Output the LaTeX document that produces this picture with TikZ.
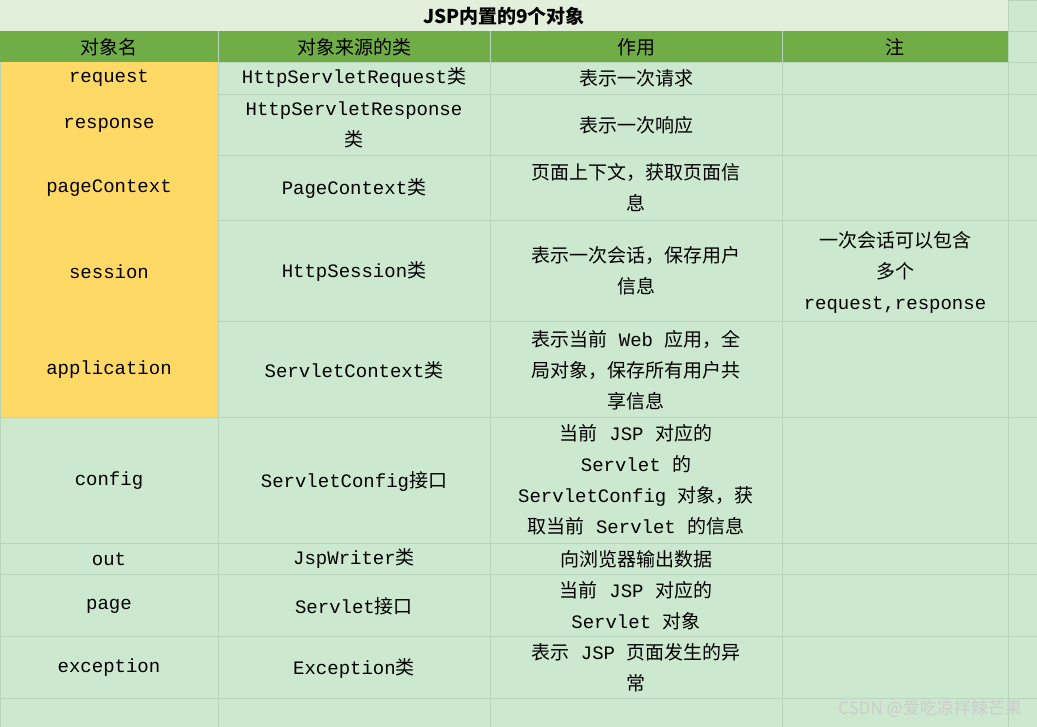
\documentclass[tikz,border=0pt]{standalone}
\usepackage{fontspec}
\setmainfont{Liberation Mono}
\newfontfamily\zhf{Noto Sans CJK SC}
\newcommand{\zh}[1]{{\zhf #1}}
\definecolor{titlebg}{HTML}{E2EFDA}
\definecolor{headbg}{HTML}{70AD47}
\definecolor{bodybg}{HTML}{CCE8CF}
\definecolor{yel}{HTML}{FFD966}
\definecolor{gridc}{HTML}{B8D4BA}
\begin{document}
\begin{tikzpicture}[x=1pt,y=-1pt,
  cell/.style={inner sep=0pt,align=center,font=\fontsize{19}{31}\selectfont,anchor=center},
  grid/.style={draw=gridc,line width=0.8pt}]
\useasboundingbox (0,0) rectangle (1037,727);
\fill[bodybg] (0,0) rectangle (1037,727);
\fill[titlebg] (0,0) rectangle (1008,31);
\fill[headbg] (0,31) rectangle (1008,62);
\fill[yel] (0,62) rectangle (218,417);
% grid
\foreach \y in {62,94,155,220,321,417,543,574,636,698} \draw[grid] (218,\y) -- (1037,\y);
\foreach \y in {417,543,574,636,698} \draw[grid] (0,\y) -- (218,\y);
\draw[grid] (1008,0) -- (1037,0) (1008,31)--(1037,31) (1008,62)--(1037,62);
\foreach \x in {218,490,782} \draw[grid] (\x,31) -- (\x,727);
\draw[grid] (1008,0) -- (1008,727);
\draw[grid] (0,62) -- (0,727);
% title and header
\node[cell,font=\fontsize{19}{22}\selectfont\zhf\bfseries] (title) at (504,16) {JSP内置的9个对象};
\node[cell] (h1) at (109,47) {\zh{对象名}};
\node[cell] (h2) at (354,47) {\zh{对象来源的类}};
\node[cell] (h3) at (636,47) {\zh{作用}};
\node[cell] (h4) at (895,47) {\zh{注}};
% rows
\node[cell] (a1) at (109,78) {request};
\node[cell] (a2) at (354,78) {HttpServletRequest\zh{类}};
\node[cell] (a3) at (636,78) {\zh{表示一次请求}};
\node[cell] (b1) at (109,125) {response};
\node[cell] (b2) at (354,125) {HttpServletResponse\\\zh{类}};
\node[cell] (b3) at (636,125) {\zh{表示一次响应}};
\node[cell] (c1) at (109,188) {pageContext};
\node[cell] (c2) at (354,188) {PageContext\zh{类}};
\node[cell] (c3) at (636,188) {\zh{页面上下文，获取页面信}\\\zh{息}};
\node[cell] (d1) at (109,272) {session};
\node[cell] (d2) at (354,272) {HttpSession\zh{类}};
\node[cell] (d3) at (636,271) {\zh{表示一次会话，保存用户}\\\zh{信息}};
\node[cell] (d4) at (895,272) {\zh{一次会话可以包含}\\\zh{多个}\\request,response};
\node[cell] (e1) at (109,370) {application};
\node[cell] (e2) at (354,370) {ServletContext\zh{类}};
\node[cell] (e3) at (636,370) {\zh{表示当前} Web \zh{应用，全}\\\zh{局对象，保存所有用户共}\\\zh{享信息}};
\node[cell] (f1) at (109,481) {config};
\node[cell] (f2) at (354,481) {ServletConfig\zh{接口}};
\node[cell] (f3) at (636,480) {\zh{当前} JSP \zh{对应的}\\Servlet \zh{的}\\ServletConfig \zh{对象，获}\\\zh{取当前} Servlet \zh{的信息}};
\node[cell] (g1) at (109,559) {out};
\node[cell] (g2) at (354,559) {JspWriter\zh{类}};
\node[cell] (g3) at (636,559) {\zh{向浏览器输出数据}};
\node[cell] (p1) at (109,606) {page};
\node[cell] (p2) at (354,606) {Servlet\zh{接口}};
\node[cell] (p3) at (636,606) {\zh{当前} JSP \zh{对应的}\\Servlet \zh{对象}};
\node[cell] (x1) at (109,668) {exception};
\node[cell] (x2) at (354,668) {Exception\zh{类}};
\node[cell] (x3) at (636,668) {\zh{表示} JSP \zh{页面发生的异}\\\zh{常}};
\node[cell,font=\fontsize{17}{20}\selectfont\zhf,text=white!60!gray,anchor=east] (wm) at (1022,709) {CSDN @爱吃凉拌辣芒果};
\end{tikzpicture}
\end{document}
